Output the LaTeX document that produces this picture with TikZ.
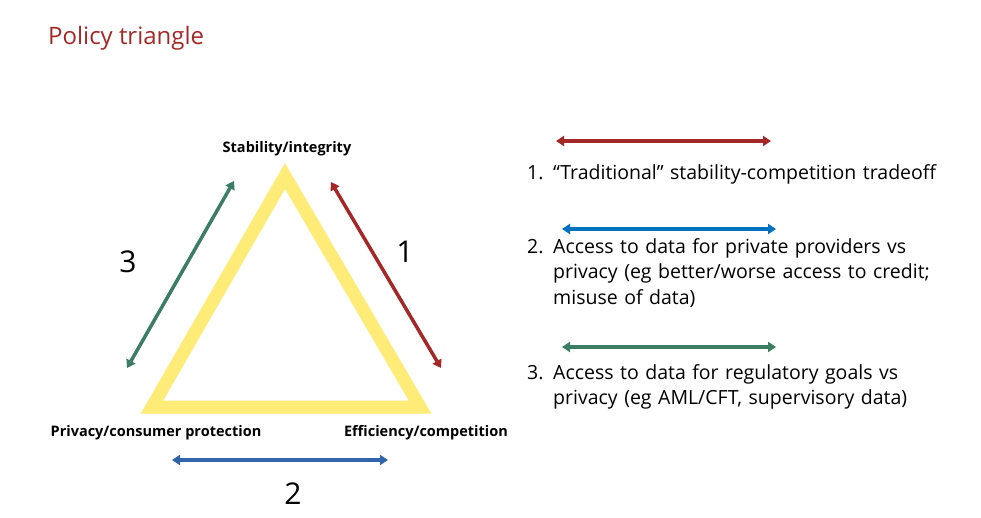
\documentclass[tikz,border=0pt]{standalone}
\usepackage{fontspec}
\setmainfont{Open Sans}
\usetikzlibrary{arrows.meta}
\definecolor{tred}{RGB}{165,40,40}
\definecolor{tgreen}{RGB}{60,125,100}
\definecolor{tblue}{RGB}{50,100,170}
\definecolor{bblue}{RGB}{0,112,192}
\definecolor{tyel}{RGB}{255,235,120}
\begin{document}
\begin{tikzpicture}[x=1pt,y=-1pt,
  dbl/.style={line width=3.5pt,{Triangle[length=8pt,width=10pt]}-{Triangle[length=8pt,width=10pt]}},
  lab/.style={font=\fontsize{14.5}{16}\selectfont\bfseries},
  num/.style={font=\fontsize{30}{32}\selectfont},
  item/.style={font=\fontsize{19.5}{25.5}\selectfont,align=left,anchor=north west,text width=450pt,inner sep=0pt}]
\useasboundingbox (0,0) rectangle (981,517);
\node[anchor=west,text=tred,font=\fontsize{24}{28}\selectfont,inner sep=0pt] (title) at (48,38) {Policy triangle};
\coordinate (A) at (285,176); \coordinate (B) at (152,407); \coordinate (C) at (420,407);
\draw[tyel,line width=13pt,line join=miter] (A)--(B)--(C)--cycle;
\node[lab] (s) at (287,149) {Stability/integrity};
\node[lab] (p) at (156,433) {Privacy/consumer protection};
\node[lab] (e) at (426,433) {Efficiency/competition};
\coordinate (g1) at (127,368); \coordinate (g2) at (234,181);
\draw[dbl,tgreen] (g1)--(g2);
\coordinate (r1) at (331,182); \coordinate (r2) at (441,368);
\draw[dbl,tred] (r1)--(r2);
\coordinate (b1) at (172,460); \coordinate (b2) at (388,460);
\draw[dbl,tblue] (b1)--(b2);
\node[num] (n3) at (128,262) {3};
\node[num] (n1) at (405,252) {1};
\node[num] (n2) at (293,494) {2};
\coordinate (ra) at (556,141); \coordinate (rb) at (771,141);
\draw[dbl,tred] (ra)--(rb);
\coordinate (ba) at (562,229); \coordinate (bb) at (776,229);
\draw[dbl,bblue] (ba)--(bb);
\coordinate (ga) at (562,347); \coordinate (gb) at (776,347);
\draw[dbl,tgreen] (ga)--(gb);
\node[item] (i1) at (527,164) {\parbox[t]{26pt}{1.}“Traditional” stability-competition tradeoff};
\node[item] (i2) at (527,238) {\parbox[t]{26pt}{2.}\parbox[t]{420pt}{Access to data for private providers vs\\privacy (eg better/worse access to credit;\\misuse of data)}};
\node[item] (i3) at (527,364) {\parbox[t]{26pt}{3.}\parbox[t]{420pt}{Access to data for regulatory goals vs\\privacy (eg AML/CFT, supervisory data)}};
\end{tikzpicture}
\end{document}
